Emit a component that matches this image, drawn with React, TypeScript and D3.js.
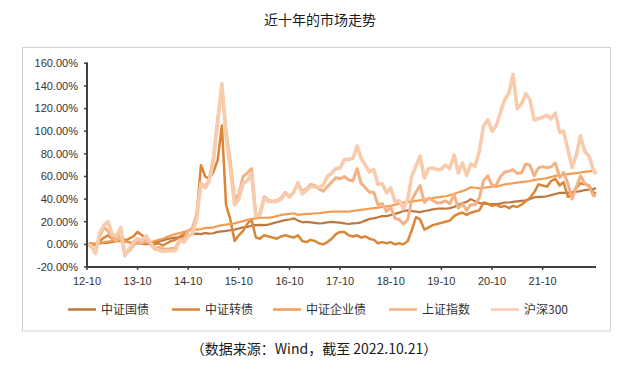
import React, { useEffect, useRef } from 'react';
import * as d3 from 'd3';

// series names, in legend order
const seriesNames = ['中证国债', '中证转债', '中证企业债', '上证指数', '沪深300'];
const seriesColors = ['#BD7840', '#DA8538', '#F19E52', '#F4B183', '#F8CBAD'];
const seriesWidths = [2.2, 2.5, 2.2, 3, 3.6];

// x axis tick labels (October of each year)
const xTickLabels = ['12-10', '13-10', '14-10', '15-10', '16-10', '17-10', '18-10', '19-10', '20-10', '21-10'];
const yTicks = [-20, 0, 20, 40, 60, 80, 100, 120, 140, 160];

// one point at the start of each month from 2012-10 to 2022-10, then 2022-10-21
const dates = [
  ...d3.utcMonth.range(new Date(Date.UTC(2012, 9, 1)), new Date(Date.UTC(2022, 9, 2))),
  new Date(Date.UTC(2022, 9, 21)),
];

// cumulative return, %
const guozhai = [
  0, 0.3, 0.5,
  0.8, 1.2, 1.6, 2.2, 2.8, 3.0, 2.5, 1.8, 0.8, 1.0, 0.6, 0.2,
  0.5, 1.5, 2.5, 3.5, 4.5, 5.5, 6.0, 6.5, 7.2, 8.0, 9.0, 9.5,
  9.0, 10.0, 9.5, 9.8, 11.0, 11.5, 12.0, 12.5, 13.0, 14.0, 15.0, 15.5,
  16.5, 17.0, 17.2, 17.0, 17.5, 18.5, 19.5, 20.5, 21.5, 22.0, 23.0, 21.0,
  19.5, 19.8, 19.5, 19.0, 18.5, 18.8, 19.5, 19.8, 19.5, 19.2, 18.5, 18.0,
  18.5, 18.8, 19.5, 21.0, 22.5, 23.0, 24.0, 25.0, 25.0, 26.0, 27.0, 28.0,
  29.5, 30.0, 29.5, 29.0, 28.5, 29.5, 30.0, 31.0, 31.5, 31.5, 31.5, 32.0,
  33.0, 35.0, 36.5, 37.5, 40.0, 38.0, 36.5, 36.0, 35.5, 35.5, 35.5, 36.0,
  37.0, 37.0, 37.5, 38.0, 38.5, 39.0, 40.0, 41.5, 42.0, 42.0, 42.5, 43.5,
  44.5, 45.5, 45.5, 45.5, 46.0, 46.5, 47.0, 48.0, 48.5, 49.0, 49.5,
];

const zhuanzhai = [
  0, 1, -1,
  3, 6, 8, 5, 6, 9, 3, 5, 7, 11, 8, 6,
  2, 0, 1, -1, 1, 3, 4, 7, 9, 12, 14, 25,
  70, 60, 58, 64, 74, 105, 35, 22, 3, 8, 12, 18,
  22, 6, 5, 8, 7, 6, 5, 7, 8, 7, 6, 8,
  3, 2, 4, 3, 1, 0, 2, 5, 9, 11, 11, 8,
  7, 8, 6, 7, 5, 4, 1, 2, 1, 2, 0, 1,
  0, 3, 12, 24, 22, 13, 15, 17, 18, 19, 20, 21,
  25, 27, 28, 26, 28, 29, 30, 37, 36, 34, 35, 33,
  34, 32, 34, 33, 35, 38, 41, 46, 53, 52, 51, 56,
  58, 52, 55, 42, 44, 50, 54, 53, 52, 46, 45,
];

const qiyezhai = [
  0, 0.4, 0.8,
  1.5, 2.0, 2.5, 3.0, 3.5, 3.2, 2.8, 2.0, 1.5, 1.8, 1.5, 1.2,
  1.8, 3.0, 4.0, 5.0, 6.5, 8.0, 9.0, 10.0, 11.0, 12.5, 13.5, 13.0,
  13.5, 14.5, 14.5, 15.0, 16.0, 17.0, 17.5, 18.0, 18.5, 19.5, 20.5, 21.5,
  22.5, 23.0, 23.5, 23.5, 23.5, 24.0, 25.0, 26.0, 26.5, 27.0, 27.5, 26.0,
  26.5, 27.0, 27.0, 27.5, 27.5, 28.0, 28.5, 29.0, 29.0, 29.0, 29.0, 29.0,
  29.5, 30.0, 30.5, 31.0, 31.5, 32.0, 32.5, 33.0, 33.5, 34.0, 35.0, 36.0,
  37.0, 37.5, 38.0, 38.5, 39.0, 39.5, 40.0, 41.0, 41.5, 42.0, 42.5, 43.5,
  44.5, 46.0, 47.0, 48.5, 50.5, 50.0, 49.5, 50.0, 50.5, 51.0, 51.0, 52.0,
  53.0, 53.5, 54.0, 54.5, 55.0, 55.5, 56.0, 57.0, 57.5, 58.0, 58.5, 59.5,
  60.5, 61.0, 61.5, 62.0, 62.5, 63.0, 63.5, 64.0, 64.5, 65.0, 65.0,
];

const shangzheng = [
  0, -2, -7,
  7.3, 15, 11.9, 5.8, 3, 8.8, -9, -5.7, -0.8, 2.8, 1.2, 5,
  0, -3.9, -2.8, -3.9, -4.2, -3.6, -3.2, 4.1, 4.8, 11.8, 14.4, 26.9,
  53, 51.8, 56.5, 77, 110, 138, 100, 73, 40, 44, 60, 63,
  67, 25, 27, 42, 39, 38, 38.5, 41, 46, 42, 46.6, 53.7,
  46.8, 49, 53, 52, 49, 47, 51, 55, 59, 58, 60, 57,
  56, 67, 54, 50, 46, 46, 35, 36, 29, 33, 23, 22,
  18, 22, 39, 46, 52, 37, 41, 38.7, 36.5, 37, 38.5, 35.8,
  44, 32, 36, 30, 35, 35, 41, 56.5, 60.6, 52, 52.5, 60,
  64, 64.7, 66, 62.7, 63, 71, 70, 60.6, 67.6, 68.7, 67.7, 68.5,
  72, 59, 63.7, 53.8, 40, 50.6, 60.7, 53.8, 51.4, 43, 43.6,
];

const hushen300 = [
  0, -1.6, -8,
  10, 17, 20, 9, 7, 15, -10, -4, 2, 5, 3.6, 7.4,
  1.7, -3.8, -4.9, -6.3, -5.8, -5.7, -5.5, 3.3, 2, 7, 9.5, 22.6,
  54, 50, 56, 73.5, 107, 142, 95, 67, 35, 40, 54, 56,
  63, 25, 26, 40.5, 38, 38, 38, 40, 45, 42, 46, 54.5,
  44.6, 48, 51, 51, 50, 52.5, 60, 63, 67, 67.6, 75, 75,
  76, 87, 76, 70, 64, 66, 53, 53.6, 45.6, 50, 37.7, 38.6,
  31.5, 40, 60, 69, 78, 58.5, 67, 67.5, 66, 66.6, 70, 67,
  79, 63, 72, 61, 71, 69, 82, 105, 110, 100, 105, 117,
  128, 134, 150, 120, 124, 133, 128, 110, 111, 112.5, 114, 111,
  116, 99, 100, 84, 68, 79, 96, 82, 78, 66, 62,
];

const seriesValues = [guozhai, zhuanzhai, qiyezhai, shangzheng, hushen300];

const numFont = '"Liberation Sans", Arial, sans-serif';
const cjkFont = '"Noto Sans CJK SC", "Noto Sans", sans-serif';

export default function App() {
  const ref = useRef<SVGSVGElement>(null);

  useEffect(() => {
    const svg = d3.select(ref.current);
    svg.selectAll('*').remove();

    const left = 87, right = 596, top = 63.3, bottom = 267;

    const x = d3.scaleUtc()
      .domain([dates[0], dates[dates.length - 1]])
      .range([left, right]);
    const y = d3.scaleLinear().domain([-20, 160]).range([bottom, top]);

    // outer frame
    svg.append('rect')
      .attr('x', 22.5).attr('y', 47.5)
      .attr('width', 588).attr('height', 283.5)
      .attr('fill', 'none').attr('stroke', '#d0d0d0');

    // title
    svg.append('text')
      .attr('x', 320).attr('y', 25)
      .attr('text-anchor', 'middle')
      .style('font-family', cjkFont).style('font-size', '14px')
      .attr('fill', '#1a1a1a')
      .text('近十年的市场走势');

    // lines
    const line = d3.line<number>()
      .x((d, i) => x(dates[i]))
      .y(d => y(d));

    seriesValues.forEach((vals, k) => {
      svg.append('path')
        .datum(vals)
        .attr('d', line)
        .attr('fill', 'none')
        .attr('stroke', seriesColors[k])
        .attr('stroke-width', seriesWidths[k])
        .attr('stroke-linejoin', 'round');
    });

    // y axis
    const axisColor = '#404040';
    svg.append('line')
      .attr('x1', left).attr('x2', left)
      .attr('y1', top - 1).attr('y2', bottom + 1)
      .attr('stroke', axisColor).attr('stroke-width', 2);
    const yg = svg.append('g');
    yTicks.forEach(t => {
      yg.append('line')
        .attr('x1', left - 3).attr('x2', left)
        .attr('y1', y(t)).attr('y2', y(t))
        .attr('stroke', axisColor).attr('stroke-width', 1.5);
      yg.append('text')
        .attr('x', 78).attr('y', y(t))
        .attr('dy', '0.35em')
        .attr('text-anchor', 'end')
        .style('font-family', numFont).style('font-size', '11px')
        .attr('fill', '#333')
        .text(t.toFixed(2) + '%');
    });

    // x axis
    svg.append('line')
      .attr('x1', left).attr('x2', right)
      .attr('y1', bottom).attr('y2', bottom)
      .attr('stroke', axisColor).attr('stroke-width', 2);
    const xg = svg.append('g');
    xTickLabels.forEach(lab => {
      const d = new Date(Date.UTC(2000 + +lab.slice(0, 2), +lab.slice(3) - 1, 1));
      const px = x(d);
      xg.append('line')
        .attr('x1', px).attr('x2', px)
        .attr('y1', bottom).attr('y2', bottom + 3)
        .attr('stroke', axisColor).attr('stroke-width', 1.5);
      xg.append('text')
        .attr('x', px).attr('y', 285)
        .attr('text-anchor', 'middle')
        .style('font-family', numFont).style('font-size', '11px')
        .attr('fill', '#333')
        .text(lab);
    });

    // legend
    const legendX = [68, 172, 273, 389, 491];
    const lg = svg.append('g');
    seriesNames.forEach((name, k) => {
      lg.append('line')
        .attr('x1', legendX[k]).attr('x2', legendX[k] + 28)
        .attr('y1', 309.5).attr('y2', 309.5)
        .attr('stroke', seriesColors[k]).attr('stroke-width', 2.5);
      lg.append('text')
        .attr('x', legendX[k] + 33).attr('y', 309.5)
        .attr('dy', '0.35em')
        .style('font-family', cjkFont).style('font-size', '12px')
        .attr('fill', '#333')
        .text(name);
    });

    // source note
    svg.append('text')
      .attr('x', 314).attr('y', 354)
      .attr('text-anchor', 'middle')
      .style('font-family', cjkFont).style('font-size', '14px')
      .attr('fill', '#1a1a1a')
      .text('（数据来源：Wind，截至 2022.10.21）');
  }, []);

  return (
    <svg
      ref={ref}
      width={640}
      height={370}
      style={{ position: 'absolute', left: 0, top: 0, background: '#fff' }}
    />
  );
}
